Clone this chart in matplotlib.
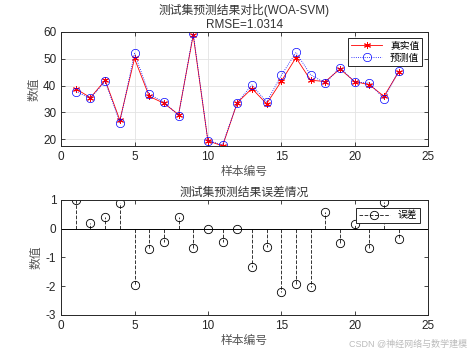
import matplotlib
matplotlib.use('Agg')
import matplotlib.pyplot as plt
from matplotlib.lines import Line2D
import numpy as np

plt.rcParams['font.family'] = ['Liberation Sans', 'Noto Sans CJK SC']
plt.rcParams['axes.unicode_minus'] = False

# Data
sample_idx = list(range(1, 24))
true_vals = [38.8, 35.5, 42.0, 27.1, 50.1, 36.0, 33.4, 29.2, 58.8, 19.4, 17.5, 33.6,
             38.9, 33.2, 41.6, 50.4, 42.0, 41.5, 46.2, 41.5, 40.3, 36.0, 45.1]
pred_vals = [37.79, 35.29, 41.60, 26.22, 52.07, 36.71, 33.88, 28.80, 59.47, 19.40, 17.97, 33.63,
             40.24, 33.84, 43.81, 52.34, 44.02, 40.92, 46.71, 41.33, 40.96, 35.06, 45.47]
rmse_text = 'RMSE=1.0314'

x = np.array(sample_idx)
err = np.array(true_vals) - np.array(pred_vals)

axis_col = '#262626'
star = (6, 2, 0)  # thin asterisk like MATLAB '*'
fig = plt.figure(figsize=(4.74, 3.55), dpi=100)

# Top: true vs predicted
ax1 = fig.add_axes([0.129, 0.589, 0.774, 0.321])
ax1.plot(x, true_vals, '-', marker=star, color='red', lw=0.6, ms=5, mew=0.7, label='真实值')
ax1.plot(x, pred_vals, ':o', color='blue', lw=0.6, ms=6, mfc='none', mew=0.5, label='预测值')
ax1.set_xlim(0, 25)
ax1.set_ylim(17.5, 60)
ax1.set_xticks([0, 5, 10, 15, 20, 25])
ax1.set_yticks([20, 30, 40, 50, 60])
ax1.grid(True, color='#e3e3e3', lw=0.6)
ax1.set_axisbelow(True)
ax1.set_title('测试集预测结果对比(WOA-SVM)\n' + rmse_text, fontsize=8.5, color='#333333',
              pad=3, linespacing=1.2)
ax1.set_xlabel('样本编号', fontsize=8.5, color='#555555', labelpad=2)
ax1.set_ylabel('数值', fontsize=8.5, color='#555555', labelpad=2)
leg1 = ax1.legend(loc='upper right', fontsize=7, fancybox=False, edgecolor=axis_col,
                  framealpha=1, borderpad=0.3, handlelength=3.2, labelspacing=0.2,
                  borderaxespad=0.6)
leg1.get_frame().set_linewidth(0.7)

# Bottom: errors as stems
ax2 = fig.add_axes([0.129, 0.113, 0.774, 0.324])
ml, sl, bl = ax2.stem(x, err, linefmt='k--', markerfmt='ko', basefmt=' ')
ml.set_markerfacecolor('none')
ml.set_markersize(6)
ml.set_markeredgewidth(0.6)
sl.set_linewidth(0.7)
sl.set_color('#333333')
ax2.axhline(0, color='black', lw=0.7)
ax2.set_xlim(0, 25)
ax2.set_ylim(-3, 1)
ax2.set_xticks([0, 5, 10, 15, 20, 25])
ax2.set_yticks([-3, -2, -1, 0, 1])
ax2.set_title('测试集预测结果误差情况', fontsize=8.5, color='#333333', pad=3)
ax2.set_xlabel('样本编号', fontsize=8.5, color='#555555', labelpad=2)
ax2.set_ylabel('数值', fontsize=8.5, color='#555555', labelpad=2)
h_line = Line2D([0], [0], ls='--', color='#333333', lw=0.7)
h_mark = Line2D([0], [0], ls='none', marker='o', color='k', mfc='none', ms=6, mew=0.6)
leg2 = ax2.legend([(h_line, h_mark)], ['误差'], loc='upper right', fontsize=7,
                  fancybox=False, edgecolor=axis_col, framealpha=1, borderpad=0.3,
                  handlelength=3.2, borderaxespad=0.8)
leg2.get_frame().set_linewidth(0.7)

for ax in (ax1, ax2):
    ax.tick_params(direction='in', top=True, right=True, labelsize=8.5,
                   colors=axis_col, length=3, width=0.6)
    for s in ax.spines.values():
        s.set_color(axis_col)
        s.set_linewidth(0.7)

fig.text(0.985, 0.03, 'CSDN @神经网络与数学建模', ha='right', va='center',
         fontsize=6.5, color='#bbbbbb')

fig.savefig('out.png', dpi=100)
